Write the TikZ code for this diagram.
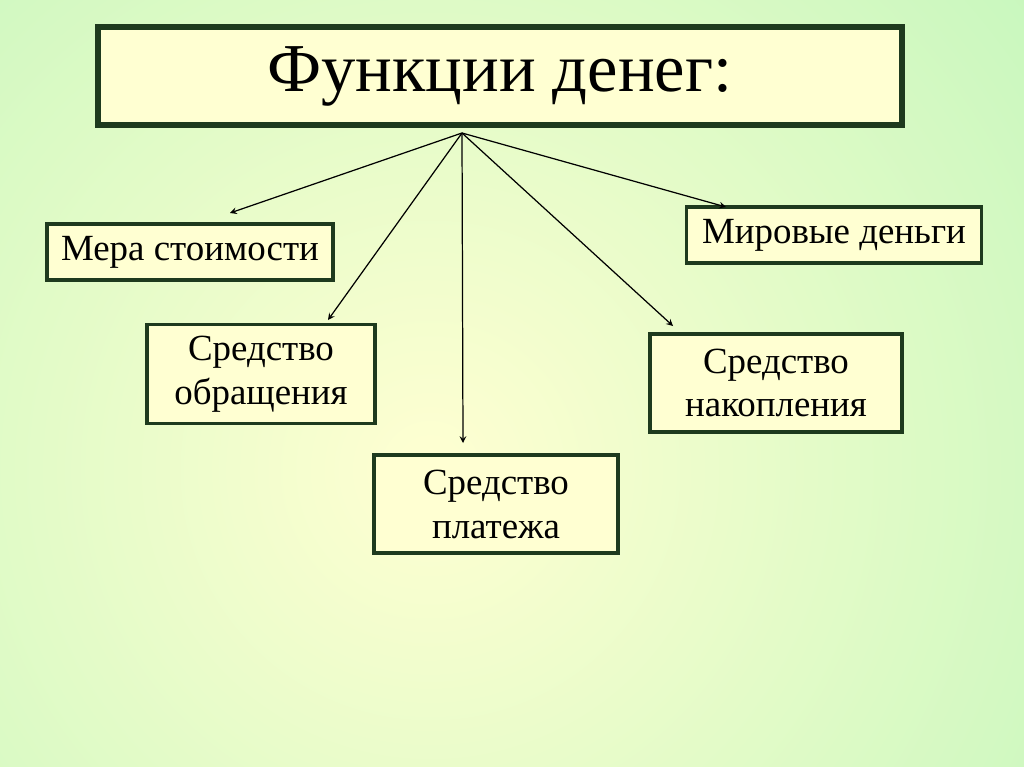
\documentclass[tikz,border=0pt]{standalone}
\usepackage{fontspec}
\setmainfont{Liberation Serif}
\usetikzlibrary{arrows}
\definecolor{boxline}{HTML}{1E3A1E}
\definecolor{boxfill}{HTML}{FFFFD2}
\definecolor{bgmid}{HTML}{FFFFD2}
\definecolor{bgout}{HTML}{B8F5B8}
\tikzstyle{func} = [rectangle, draw=boxline, line width=2pt, fill=boxfill, align=center, font=\fontsize{21}{25}\selectfont, inner sep=0pt]
\tikzstyle{arrow} = [->, >=stealth, line width=0.7pt]
\begin{document}
\begin{tikzpicture}[x=0.02cm, y=-0.02cm]

\begin{scope}
\clip (0,0) rectangle (1024,767);
\shade[inner color=bgmid, outer color=bgout] (430,470) circle (1000*0.02cm);
\end{scope}
\useasboundingbox (0,0) rectangle (1024,767);

\node (title) [func, line width=3pt, minimum width=804*0.02cm, minimum height=98*0.02cm, font=\fontsize{39}{44}\selectfont] at (500,76) {Функции денег:};
\node (mera) [func, minimum width=286*0.02cm, minimum height=56*0.02cm] at (190,252) {Мера стоимости};
\node (mirovye) [func, minimum width=295*0.02cm, minimum height=56*0.02cm] at (834,235) {Мировые деньги};
\node (obrash) [func, minimum width=228*0.02cm, minimum height=99*0.02cm] at (261,374) {Средство\\обращения};
\node (nakop) [func, minimum width=252*0.02cm, minimum height=98*0.02cm] at (776,383) {Средство\\накопления};
\node (platezh) [func, minimum width=244*0.02cm, minimum height=98*0.02cm] at (496,504) {Средство\\платежа};

\coordinate (hub) at (462,133);
\coordinate (toMera) at (230,213);
\coordinate (toObrash) at (328,320);
\coordinate (toPlatezh) at (463,443);
\coordinate (toNakop) at (673,326);
\coordinate (toMirovye) at (726,207);

\draw [arrow] (hub) -- (toMera);
\draw [arrow] (hub) -- (toObrash);
\draw [arrow] (hub) -- (toPlatezh);
\draw [arrow] (hub) -- (toNakop);
\draw [arrow] (hub) -- (toMirovye);

\end{tikzpicture}
\end{document}
